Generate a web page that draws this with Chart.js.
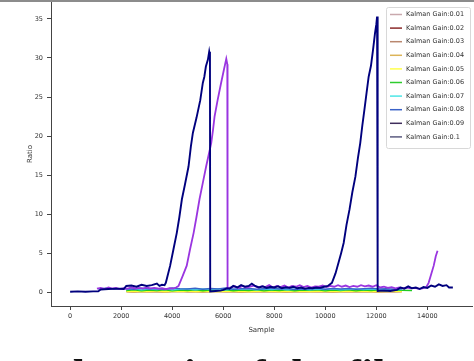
<!DOCTYPE html>
<html>
<head>
<meta charset="utf-8">
<script src="https://cdn.jsdelivr.net/npm/chart.js@4/dist/chart.umd.min.js"></script>
<style>
  html, body { margin: 0; padding: 0; width: 474px; height: 361px; overflow: hidden; background: #fff; position: relative; }
  #c { position: absolute; left: 0; top: 0; }
  #cap { position: absolute; left: 58px; top: 354px; font: bold 44px "Liberation Serif", serif; line-height: 1; white-space: nowrap; color: #111; }
</style>
</head>
<body>
<canvas id="c" width="474" height="361"></canvas>
<div id="cap">the ratio of the filter with different Kalman gains</div>
<script>
// ---------- DATA ----------
const gainLabels = ['Kalman Gain:0.01','Kalman Gain:0.02','Kalman Gain:0.03','Kalman Gain:0.04','Kalman Gain:0.05',
                    'Kalman Gain:0.06','Kalman Gain:0.07','Kalman Gain:0.08','Kalman Gain:0.09','Kalman Gain:0.1'];

const xTicks = [0, 2000, 4000, 6000, 8000, 10000, 12000, 14000];
const yTicks = [0, 5, 10, 15, 20, 25, 30, 35];

// shared sample positions for the low-level series (0.01 - 0.08)
const lowSamples = [1100,1400,1700,2000,
  2200,2500,2800,3100,3400,3700,4000,4300,4600,4900,5200,5500,5800,6100,6400,6700,7000,7300,7600,7900,
  8200,8500,8800,9100,9400,9700,10000,10300,10600,10900,11200,11500,11800,12100,12400,12700,13000,
  13400];

const gain001 = [null,null,null,null,
  0.08,0.05,0.10,0.06,0.09,0.05,0.08,0.10,0.06,0.09, 0.05,0.08,0.10,0.06,0.08,0.05,0.09,0.07,0.10,0.06,
  0.08,0.05,0.09,0.07,0.10,0.06,0.08,0.05,0.09,0.07, 0.10,0.06,0.08,0.05,0.09,0.07,0.08, null];
const gain002 = [null,null,null,null,
  0.10,0.07,0.12,0.08,0.11,0.06,0.10,0.13,0.08,0.11, 0.07,0.10,0.12,0.08,0.10,0.07,0.11,0.09,0.12,0.08,
  0.10,0.07,0.11,0.09,0.12,0.08,0.10,0.07,0.11,0.09, 0.12,0.08,0.10,0.07,0.11,0.09,0.10, null];
const gain003 = [null,null,null,null,
  0.12,0.09,0.14,0.10,0.13,0.08,0.12,0.15,0.10,0.13, 0.09,0.12,0.14,0.10,0.12,0.09,0.13,0.11,0.14,0.10,
  0.12,0.09,0.13,0.11,0.14,0.10,0.12,0.09,0.13,0.11, 0.14,0.10,0.12,0.09,0.13,0.11,0.12, null];
const gain004 = [null,null,null,null,
  0.04,0.02,0.06,0.03,0.05,0.02,0.04,0.06,0.03,0.05, 0.02,0.04,0.06,0.03,0.04,0.02,0.05,0.03,0.06,0.03,
  0.04,0.02,0.05,0.03,0.06,0.03,0.04,0.02,0.05,0.03, 0.06,0.03,0.04,0.02,0.05,0.03,0.04, null];
const gain005 = [null,null,null,null,
  0.10,0.14,0.08,0.12,0.16,0.09,0.13,0.10,0.15,0.08, 0.12,0.14,0.09,0.13,0.11,0.15,0.08,0.12,0.10,0.14,
  0.09,0.13,0.11,0.15,0.08,0.12,0.10,0.14,0.09,0.13, 0.11,0.15,0.08,0.12,0.10,0.14,0.11, null];
const gain006 = [null,null,null,null,
  0.22,0.30,0.18,0.27,0.20,0.32,0.17,0.26,0.22,0.30, 0.19,0.28,0.23,0.31,0.18,0.26,0.21,0.29,0.17,0.27,
  0.22,0.30,0.19,0.28,0.23,0.31,0.18,0.26,0.21,0.29, 0.17,0.27,0.22,0.30,0.19,0.28,0.24, 0.22];
const gain007 = [null,null,null,null,
  0.35,0.42,0.30,0.40,0.33,0.45,0.31,0.38,0.43,0.32, 0.40,0.34,0.44,0.30,0.39,0.36,0.42,0.31,0.40,0.35,
  0.43,0.32,0.38,0.41,0.30,0.39,0.35,0.44,0.31,0.37, 0.42,0.33,0.40,0.36,0.30,0.38,0.34, null];
const gain008 = [0.40,0.50,0.42,0.48,
  0.45,0.38,0.50,0.42,0.47,0.36,0.52,0.43,0.40,0.49, 0.37,0.46,0.41,0.53,0.39,0.45,0.48,0.38,0.44,0.50,
  0.40,0.47,0.36,0.45,0.42,0.51,0.39,0.46,0.40,0.48, 0.37,0.44,0.50,0.41,0.45,0.38,0.43, null];

// Kalman gain 0.09
const gain009Samples = [1050,1200,1350,1500,1650,1800,1950,2100,2250,2400,2550,2700,2850,3000,3150,3300,3450,3600,3750,3900,
  4050,4150,4250,4400,4570,4700,4840,4950,5070,5200,5330,5430,5530,5600,5660,5780,5910,6020,6120,6160,6170,
  6300,6450,6600,6750,6900,7050,7200,7350,7500,7650,7800,7950,8100,8250,8400,8550,8700,8850,9000,9150,9300,
  9450,9600,9750,9900,10050,10200,10350,10500,10650,10800,10950,11100,11250,11400,11550,11700,11850,12000,
  12150,12300,12450,12600,12750,12900,13050,13200,13350,13500,13650,13800,13950,14050,14150,14250,14330,14400];
const gain009 = [0.45,0.55,0.40,0.60,0.45,0.55,0.40,0.50,0.45,0.60,0.50,0.55,0.45,0.60,0.50,0.55,0.45,0.50,0.40,0.50,
  0.45,0.60,0.80,2.0,3.4,5.5,7.6,9.6,11.9,14.0,16.1,17.6,19.1,20.8,22.5,24.6,26.7,28.4,29.9,29.2,0.5,
  0.60,0.75,0.55,0.80,0.60,0.70,0.85,0.60,0.75,0.65,0.90,0.60,0.80,0.65,0.85,0.60,0.80,0.70,0.90,0.65,0.80,
  0.60,0.75,0.70,0.85,0.65,0.80,0.70,0.90,0.70,0.85,0.65,0.80,0.70,0.90,0.75,0.85,0.70,0.90,
  0.60,0.70,0.55,0.65,0.50,0.60,0.50,0.60,0.50,0.55,0.45,0.50,0.60,1.2,2.3,3.4,4.6,5.3];

// Kalman gain 0.1
const gain010Samples = [0,300,600,900,1100,1200,1500,1800,2100,2200,2400,2600,2800,3000,3200,3400,3500,3600,3700,
  3750,3920,4050,4180,4280,4380,4500,4640,4730,4810,4950,5100,5200,5260,5320,5400,5450,5480,5490,
  5700,5900,6000,6150,6250,6390,6550,6700,6850,7000,7120,7250,7400,7550,7700,7850,8000,8150,8300,8450,
  8600,8750,8900,9050,9200,9350,9500,9650,9800,9950,10100,10260,10400,10520,10620,10720,10830,10950,
  11060,11180,11280,11370,11450,11530,11620,11700,11790,11870,11950,12000,12030,12050,12055,
  12300,12550,12810,12950,13100,13250,13400,13550,13700,13850,14000,14150,14300,14450,14600,14750,14850,15000];
const gain010 = [0.05,0.10,0.05,0.10,0.10,0.35,0.40,0.45,0.40,0.80,0.85,0.70,0.95,0.80,0.90,1.10,0.80,0.95,0.90,
  1.2,3.4,5.5,7.6,9.6,11.9,13.8,16.1,18.6,20.4,22.3,24.6,26.8,27.6,28.9,29.8,30.8,30.2,0.1,
  0.15,0.20,0.30,0.50,0.45,0.80,0.60,0.90,0.70,0.80,1.10,0.80,0.60,0.75,0.55,0.70,0.60,0.75,0.50,0.65,
  0.55,0.70,0.50,0.60,0.45,0.55,0.50,0.60,0.55,0.70,0.80,1.2,2.4,3.8,5.0,6.3,8.6,10.6,
  12.8,14.8,17.2,19.1,21.3,23.3,25.6,27.6,29.0,31.0,33.2,34.3,35.3,34.9,0.15,
  0.20,0.15,0.30,0.60,0.45,0.75,0.50,0.60,0.40,0.65,0.55,0.85,0.70,1.00,0.80,0.90,0.60,0.60];

// ---------- STYLE ----------
const lineColors   = ['#c9a9ad','#8b2a2a','#b9876e','#dcb458','#ffff33','#22cc22','#40e0e0','#3a62c8','#9a35e0','#00007e'];
const legendColors = ['#c9a9ad','#8b2a2a','#b9876e','#dcb458','#ffff4d','#2ecc2e','#4de6e6','#3a62c8','#3f2d5c','#5c5c80'];
const lineWidths   = [1.3,1.3,1.3,1.3,1.3,1.4,1.4,1.5,1.8,1.9];

const lowSeries = [gain001, gain002, gain003, gain004, gain005, gain006, gain007, gain008];
function pairs(xs, ys) { return xs.map((x, i) => ({ x: x, y: ys[i] === undefined ? null : ys[i] })); }

const datasets = gainLabels.map((label, i) => {
  let data;
  if (i < 8) data = pairs(lowSamples, lowSeries[i]);
  else if (i === 8) data = pairs(gain009Samples, gain009);
  else data = pairs(gain010Samples, gain010);
  return {
    label, data,
    borderColor: lineColors[i], backgroundColor: lineColors[i],
    borderWidth: lineWidths[i], pointRadius: 0, tension: 0, spanGaps: false,
    order: 10 - i
  };
});

const tickFont = { family: 'DejaVu Sans', size: 6.5 };
const titleFont = { family: 'DejaVu Sans', size: 7 };

const extras = {
  id: 'extras',
  afterDraw(chart) {
    const c = chart.ctx;
    c.save();
    // legend frame
    c.beginPath();
    const x0 = 386.5, y0 = 7.5, w = 84, h = 141, r = 2;
    c.moveTo(x0 + r, y0); c.lineTo(x0 + w - r, y0); c.arcTo(x0 + w, y0, x0 + w, y0 + r, r);
    c.lineTo(x0 + w, y0 + h - r); c.arcTo(x0 + w, y0 + h, x0 + w - r, y0 + h, r);
    c.lineTo(x0 + r, y0 + h); c.arcTo(x0, y0 + h, x0, y0 + h - r, r);
    c.lineTo(x0, y0 + r); c.arcTo(x0, y0, x0 + r, y0, r); c.closePath();
    c.fillStyle = 'rgba(255,255,255,0.85)'; c.fill();
    c.strokeStyle = '#d8d8d8'; c.lineWidth = 1; c.stroke();
    chart.data.datasets.forEach((ds, i) => {
      const y = 14.5 + i * 13.6;
      c.strokeStyle = legendColors[i]; c.lineWidth = 1.5;
      c.beginPath(); c.moveTo(390, y); c.lineTo(402, y); c.stroke();
      c.fillStyle = '#333'; c.font = '6.5px "DejaVu Sans"'; c.textBaseline = 'middle'; c.textAlign = 'left';
      c.fillText(ds.label, 406, y);
    });
    // top border
    c.fillStyle = '#8c8c8c'; c.fillRect(0, 0, 474, 2);
    c.restore();
  }
};

new Chart(document.getElementById('c'), {
  type: 'line',
  data: { datasets },
  plugins: [extras],
  options: {
    responsive: false, animation: false, devicePixelRatio: 1,
    layout: { padding: { top: 2, right: 2, left: 0, bottom: 0 } },
    plugins: { legend: { display: false }, tooltip: { enabled: false } },
    scales: {
      x: {
        type: 'linear', min: -750, max: 15750,
        afterBuildTicks(s) { s.ticks = xTicks.map(v => ({ value: v })); },
        ticks: { autoSkip: false, maxRotation: 0, font: tickFont, color: '#333', padding: 2, callback: v => String(v) },
        grid: { display: true, drawOnChartArea: false, drawTicks: true, tickLength: 4, color: '#444' },
        border: { display: true, color: '#444', width: 1 },
        title: { display: true, text: 'Sample', font: titleFont, color: '#333', padding: { top: 0, bottom: 27 } },
        afterFit(s) { s.height = 55; s.paddingLeft = 0; s.paddingRight = 0; }
      },
      y: {
        type: 'linear', min: -1.77, max: 37.17,
        afterBuildTicks(s) { s.ticks = yTicks.map(v => ({ value: v })); },
        ticks: { autoSkip: false, font: tickFont, color: '#333', padding: 4, callback: v => String(v) },
        grid: { display: true, drawOnChartArea: false, drawTicks: true, tickLength: 4, color: '#444' },
        border: { display: true, color: '#444', width: 1 },
        title: { display: true, text: 'Ratio', font: titleFont, color: '#333', padding: { top: 26, bottom: 0 } },
        afterFit(s) { s.width = 51; s.paddingTop = 0; s.paddingBottom = 0; }
      }
    }
  }
});
</script>
</body>
</html>
